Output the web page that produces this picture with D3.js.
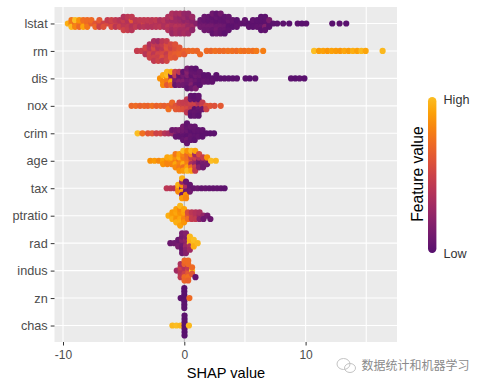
<!DOCTYPE html>
<html><head><meta charset="utf-8">
<script src="https://cdn.jsdelivr.net/npm/d3@7"></script>
<style>html,body{margin:0;padding:0;background:#fff;overflow:hidden}svg{display:block}</style>
</head><body><div id="chart"></div>
<script>
const features = ["lstat","rm","dis","nox","crim","age","tax","ptratio","rad","indus","zn","chas"];
const xTicks = [-10,0,10];
const xMinor = [-5,5,15];
const legendLabels = ["High","Low"];

// each point: [SHAP value, normalised feature value]
const lstat = [[-9.6,.95],[-9.3,.8],[-9.3,.98],[-9.3,.75],[-9,.72],[-9,1],[-9,.8],[-8.66,.75],[-8.66,.7],[-8.66,.85],[-8.33,.8],[-8.33,.72],[-8.33,.92],[-8,.7],[-8,.75],[-8,.7],[-7.66,.65],[-7.66,.7],[-7.33,.6],[-7.33,.68],[-7,.55],[-7,.62],[-7,.5],[-6.66,.5],[-6.66,.58],[-6.33,.55],[-6.33,.45],[-6,.45],[-6,.55],[-6,.5],[-5.66,.5],[-5.66,.44],[-5.66,.42],[-5.33,.44],[-5.33,.5],[-5.33,.4],[-5,.4],[-5,.46],[-5,.42],[-5,.38],[-5,.5],[-4.66,.4],[-4.66,.44],[-4.66,.38],[-4.66,.46],[-4.66,.42],[-4.33,.42],[-4.33,.62],[-4.33,.38],[-4.33,.44],[-4.33,.4],[-4,.4],[-4,.44],[-4,.42],[-3.66,.42],[-3.66,.44],[-3.66,.38],[-3.33,.5],[-3.33,.4],[-3.33,.44],[-3,.4],[-3,.44],[-3,.38],[-2.66,.44],[-2.66,.38],[-2.66,.42],[-2.33,.38],[-2.33,.44],[-2.33,.4],[-2,.38],[-2,.42],[-2,.36],[-1.66,.36],[-1.66,.4],[-1.66,.36],[-1.33,.36],[-1.33,.42],[-1.33,.32],[-1.33,.38],[-1.33,.36],[-1,.38],[-1,.3],[-1,.36],[-1,.4],[-1,.32],[-1,.36],[-1,.28],[-.66,.34],[-.66,.4],[-.66,.3],[-.66,.36],[-.66,.28],[-.66,.34],[-.66,.32],[-.33,.34],[-.33,.28],[-.33,.38],[-.33,.26],[-.33,.32],[-.33,.34],[-.33,.3],[0,.3],[0,.36],[0,.24],[0,.32],[0,.28],[0,.34],[0,.26],[.33,.32],[.33,.26],[.33,.28],[.33,.22],[.33,.34],[.33,.24],[.33,.3],[.66,.26],[.66,.3],[.66,.22],[.66,.24],[.66,.28],[1,.2],
[1.33,.1],[1.33,.12],[1.33,.08],[1.66,.1],[1.66,.06],[1.66,.12],[1.66,.08],[1.66,.1],[2,.08],[2,.12],[2,.05],[2,.1],[2,.07],[2.33,.1],[2.33,.06],[2.33,.12],[2.33,.04],[2.33,.08],[2.33,.1],[2.33,.05],[2.66,.06],[2.66,.1],[2.66,.04],[2.66,.12],[2.66,.07],[2.66,.09],[2.66,.05],[3,.08],[3,.05],[3,.1],[3,.04],[3,.07],[3,.11],[3,.06],[3.33,.06],[3.33,.09],[3.33,.04],[3.33,.07],[3.33,.05],[3.33,.03],[3.66,.05],[3.66,.08],[3.66,.03],[3.66,.06],[3.66,.04],[4,.05],[4,.03],[4,.06],[4.33,.04],[4.33,.02],[4.33,.05],[4.66,.04],[5,.03],[5,.05],[5.33,.02],[5.33,.04],[5.66,.03],[5.66,.04],[5.66,.03],[6,.02],[6,.04],[6,.03],[6.33,.03],[6.33,.02],[6.33,.05],[6.33,.02],[6.33,.03],[6.66,.02],[6.66,.18],[6.66,.03],[6.66,.04],[6.66,.02],[7,.03],[7,.14],[7,.02],[7.33,.02],[7.66,.02],[8.15,.02],[8.65,.01],[9.35,.02],[9.7,.01],[10.05,.02],[12.2,.01],[12.8,.02],[13.35,.01]];

const rm = [[-3.9,.46],[-3.55,.48],[-3.2,.46],[-3.2,.52],[-3.2,.4],[-2.85,.46],[-2.85,.52],[-2.85,.4],[-2.85,.5],[-2.85,.36],[-2.5,.48],[-2.5,.54],[-2.5,.42],[-2.5,.46],[-2.5,.5],[-2.5,.34],[-2.5,.44],[-2.15,.46],[-2.15,.52],[-2.15,.38],[-2.15,.48],[-2.15,.42],[-2.15,.5],[-2.15,.3],[-1.8,.5],[-1.8,.42],[-1.8,.54],[-1.8,.46],[-1.8,.58],[-1.8,.42],[-1.8,.44],[-1.45,.54],[-1.45,.46],[-1.45,.58],[-1.45,.5],[-1.45,.56],[-1.45,.52],[-1.45,.46],[-1.1,.56],[-1.1,.5],[-1.1,.6],[-1.1,.54],[-1.1,.62],[-.75,.6],[-.75,.64],[-.75,.56],[-.75,.6],[-.75,.58],[-.4,.64],[-.4,.6],[-.4,.66],[0,.66],[0,.62],[.35,.68],[.7,.7],[1.05,.68],[1.3,.7],[1.85,.7],[2.2,.68],[2.55,.72],[2.9,.7],[3.25,.7],[3.6,.72],[3.95,.72],[4.3,.7],[4.65,.74],[4.95,.72],[5.3,.74],[5.65,.72],[5.95,.76],[6.5,.78],
[10.7,1],[11.1,.88],[11.45,.9],[11.8,.86],[12.15,.9],[12.5,.88],[12.85,.86],[13.2,.92],[13.55,.88],[13.9,.95],[14.25,.9],[14.6,.98],[14.95,.92],[16.35,.98]];

const dis = [[-2,.85],[-1.75,.8],[-1.75,.95],[-1.75,.82],[-1.42,.85],[-1.42,1],[-1.42,.75],[-1.42,.98],[-1.42,.62],[-1.08,.5],[-1.08,.92],[-1.08,.1],[-1.08,.7],[-1.08,.95],[-.75,.2],[-.75,.45],[-.75,.14],[-.75,.5],[-.75,.06],[-.42,.1],[-.42,.2],[-.42,.06],[-.42,.12],[-.42,.42],[-.09,.08],[-.09,.12],[-.09,.18],[-.09,.05],[-.09,.1],[.25,.06],[.25,.1],[.25,.16],[.25,.08],[.25,.2],[.25,.05],[.25,.12],[.6,.08],[.6,.04],[.6,.12],[.6,.07],[.6,.18],[.6,.05],[.6,.09],[.94,.05],[.94,.08],[.94,.1],[.94,.04],[.94,.06],[.94,.16],[.94,.03],[1.28,.05],[1.28,.08],[1.28,.04],[1.28,.07],[1.28,.03],[1.62,.04],[1.62,.06],[1.62,.03],[1.96,.04],[1.96,.03],[1.96,.05],[2.3,.03],[2.3,.04],[2.64,.03],[2.64,.02],[2.98,.03],[3.32,.02],[3.66,.03],[4,.02],[4.34,.02],[5.05,.02],[5.4,.01],[5.85,.02],[8.8,.02],[9.15,.01],[9.5,.02],[9.9,.01]];

const nox = [[-4.35,.68],[-4,.7],[-3.65,.66],[-3.3,.68],[-3,.66],[-2.65,.72],[-2.3,.66],[-1.95,.68],[-1.65,.65],[-1.3,.66],[-1.3,.72],[-1,.62],[-1,.68],[-.7,.58],[-.7,.62],[-.4,.56],[-.4,.5],[-.4,.6],[-.1,.5],[-.1,.56],[-.1,.46],[.22,.5],[.22,.46],[.22,.54],[.22,.44],[.22,.42],[.54,.48],[.54,.44],[.54,.5],[.54,.05],[.54,.08],[.54,.03],[.54,.04],[.86,.46],[.86,.5],[.86,.03],[.86,.04],[.86,.06],[.86,.03],[.86,.05],[1.18,.44],[1.18,.08],[1.18,.36],[1.18,.05],[1.18,.04],[1.18,.03],[1.18,.05],[1.5,.52],[1.5,.46],[1.5,.08],[1.82,.58],[1.82,.5],[2.15,.6],[2.5,.58],[3,.62]];

const crim = [[-3.85,1],[-3.45,.72],[-3,.6],[-2.65,.62],[-2.3,.5],[-1.95,.52],[-1.6,.4],[-1.3,.35],[-1,.28],[-1,.1],[-.7,.2],[-.7,.06],[-.7,.12],[-.4,.08],[-.4,.14],[-.4,.05],[-.1,.08],[-.1,.04],[-.1,.1],[-.1,.06],[-.1,.12],[.22,.05],[.22,.08],[.22,.03],[.22,.06],[.22,.1],[.22,.04],[.22,.07],[.54,.04],[.54,.06],[.54,.03],[.54,.05],[.54,.07],[.86,.03],[.86,.05],[.86,.04],[.86,.06],[.86,.02],[1.18,.03],[1.18,.05],[1.18,.04],[1.5,.03],[1.5,.04],[1.5,.02],[1.82,.03],[2.14,.02],[2.45,.03]];

const age = [[-2.8,.85],[-2.45,.88],[-2.1,.82],[-1.75,.9],[-1.75,.85],[-1.4,.82],[-1.4,.92],[-1.4,.8],[-1.05,.88],[-1.05,.8],[-1.05,.94],[-.72,.78],[-.72,.85],[-.72,.92],[-.72,.75],[-.72,.82],[-.4,.72],[-.4,.8],[-.4,.95],[-.4,.76],[-.4,.9],[-.4,.84],[-.08,.85],[-.08,.76],[-.08,.95],[-.08,.8],[-.08,.72],[-.08,1],[-.08,.88],[.25,.75],[.25,.78],[.25,.72],[.25,.9],[.25,.7],[.25,.98],[.25,.85],[.58,.62],[.58,.5],[.58,.35],[.58,.82],[.58,.7],[.58,.98],[.58,.9],[.9,.35],[.9,.25],[.9,.5],[.9,.5],[.9,.3],[.9,.45],[.9,.92],[1.22,.15],[1.22,.4],[1.22,.1],[1.22,.55],[1.22,.2],[1.55,.2],[1.55,.12],[1.55,.45],[1.55,.1],[1.88,.25],[1.88,.85],[1.88,.12],[2.2,1],[2.6,.98]];

const tax = [[-1.45,.42],[-1.12,.4],[-.8,.38],[-.5,.85],[-.5,.82],[-.5,.95],[-.18,.12],[-.18,.85],[-.18,.9],[-.18,.25],[-.18,.12],[-.18,.95],[-.18,.88],[.14,.3],[.14,.1],[.14,.35],[.14,.85],[.14,.08],[.14,.8],[.46,.08],[.46,.06],[.46,.1],[.78,.06],[1.1,.08],[1.42,.05],[1.74,.06],[2.06,.05],[2.38,.04],[2.7,.05],[3.02,.04],[3.32,.03]];

const ptratio = [[-1.3,.95],[-.98,.9],[-.98,.95],[-.98,.88],[-.66,.88],[-.66,.92],[-.66,.85],[-.66,.9],[-.66,.95],[-.34,.88],[-.34,.92],[-.34,.85],[-.34,.95],[-.34,.82],[-.34,.9],[-.34,.98],[-.02,.85],[-.02,.9],[-.02,.8],[-.02,.92],[-.02,.86],[.3,.62],[.3,.72],[.3,.55],[.62,.5],[.62,.42],[.62,.46],[.94,.4],[.94,.44],[.94,.38],[1.26,.3],[1.26,.35],[1.26,.22],[1.58,.25],[1.58,.1],[1.9,.12],[2.15,.08]];

const rad = [[-1.15,.08],[-.82,.1],[-.5,.12],[-.5,.08],[-.5,.14],[-.18,.14],[-.18,.1],[-.18,.2],[-.18,.08],[-.18,.12],[-.18,.1],[-.18,.14],[.14,.2],[.14,.25],[.14,.28],[.14,.15],[.14,.22],[.14,.18],[.14,.2],[.46,1],[.46,.35],[.46,.95],[.46,.3],[.46,.98],[.78,.98],[.78,1],[.78,.95],[1.1,.98]];

const indus = [[-.62,.3],[-.3,.42],[-.3,.4],[-.3,.48],[-.3,.44],[-.3,.36],[.02,.42],[.02,.38],[.02,.5],[.02,.66],[.02,.7],[.02,.7],[.02,.68],[.32,.55],[.32,.62],[.32,.45],[.32,.72],[.32,.7],[.32,.66],[.32,.7],[.64,1],[.64,.7],[.64,.6],[.92,.05]];

const zn = [[-.3,.02],[0,.01],[0,.02],[0,.01],[0,.02],[0,.01],[0,.02],[0,.01],[.42,.7]];

const chas = [[-.98,.98],[-.65,1],[-.32,.98],[.02,.02],[.02,.01],[.02,.02],[.02,.01],[.02,.02],[.02,.01],[.02,.02],[.38,.98]];

const rows = {lstat,rm,dis,nox,crim,age,tax,ptratio,rad,indus,zn,chas};

const W=485,H=388, L=54.5,R=397,T=7,B=342;
const svg=d3.select("#chart").append("svg").attr("width",W).attr("height",H);
const x=d3.scaleLinear().domain([-10,10]).range([63,305.6]);
const y=d3.scalePoint().domain(features).range([T,B]).padding(.6);
const color=d3.scaleLinear().domain([0,1]).range([.25,.85]);
const fill=v=>d3.interpolateInferno(color(v));
const font="'Liberation Sans',Arial,sans-serif";

svg.append("rect").attr("x",L).attr("y",T).attr("width",R-L).attr("height",B-T).attr("fill","#ebebeb");
const grid=svg.append("g").attr("stroke","#fff");
grid.selectAll("line.v").data(xTicks.concat(xMinor)).join("line").attr("class","v")
  .attr("x1",d=>x(d)).attr("x2",d=>x(d)).attr("y1",T).attr("y2",B).attr("stroke-width",1.1);
grid.selectAll("line.h").data(features).join("line").attr("class","h")
  .attr("y1",d=>y(d)).attr("y2",d=>y(d)).attr("x1",L).attr("x2",R).attr("stroke-width",1.1);
svg.append("line").attr("x1",x(0)).attr("x2",x(0)).attr("y1",T).attr("y2",B).attr("stroke","#b3b3b3").attr("stroke-width",1.1);

// beeswarm: each point goes into the nearest free row around its category line
const step=3.3, minDx=3.4;
function swarm(list){
  const order=list.map((d,i)=>i).sort((a,b)=>list[a][0]-list[b][0]||a-b);
  const occupied=new Map(), out=[];
  let flip=1, prev=null;
  order.forEach(i=>{
    const px=x(list[i][0]);
    if(prev!==px){flip=-flip;prev=px;}
    let k=0;
    for(let n=0;;n++){
      k=n===0?0:(n%2?1:-1)*flip*Math.ceil(n/2);
      const last=occupied.get(k);
      if(last===undefined||px-last>=minDx-1e-6) break;
    }
    occupied.set(k,px);
    out[i]={px,off:k*step,v:list[i][1]};
  });
  return out;
}
const marks=svg.append("g");
features.forEach(f=>{
  marks.append("g").selectAll("circle").data(swarm(rows[f])).join("circle")
    .attr("cx",d=>d.px).attr("cy",d=>y(f)+d.off).attr("r",3.1).attr("fill",d=>fill(d.v));
});

const ax=svg.append("g").attr("transform",`translate(0,${B})`)
  .call(d3.axisBottom(x).tickValues(xTicks).tickSize(3.5).tickPadding(5).tickFormat(d=>d));
const ay=svg.append("g").attr("transform",`translate(${L},0)`)
  .call(d3.axisLeft(y).tickSize(3.8).tickPadding(3));
[ax,ay].forEach(a=>{
  a.select(".domain").remove();
  a.selectAll("line").attr("stroke","#333").attr("stroke-width",1);
  a.selectAll("text").attr("fill","#4d4d4d").style("font-family",font);
});
ax.selectAll("text").style("font-size","12px");
ay.selectAll("text").style("font-size","12.7px");
svg.append("text").attr("x",226).attr("y",378).attr("text-anchor","middle")
  .style("font-family",font).style("font-size","14.6px").attr("fill","#000").text("SHAP value");
svg.append("text").attr("transform","translate(423,174) rotate(-90)").attr("text-anchor","middle")
  .style("font-family",font).style("font-size","15.6px").attr("fill","#000").text("Feature value");

// colour bar
const defs=svg.append("defs");
const grad=defs.append("linearGradient").attr("id","cb").attr("x1",0).attr("x2",0).attr("y1",1).attr("y2",0);
d3.range(0,1.01,.1).forEach(t=>grad.append("stop").attr("offset",t).attr("stop-color",fill(t)));
svg.append("rect").attr("x",428).attr("y",97).attr("width",8.4).attr("height",156).attr("rx",4.2).attr("fill","url(#cb)");
svg.selectAll("text.leg").data(legendLabels).join("text").attr("class","leg")
  .attr("x",443.5).attr("y",(d,i)=>i?258:103.5).attr("fill","#333")
  .style("font-family",font).style("font-size","12.6px").text(d=>d);

// watermark
const wm=svg.append("g").attr("fill","none").attr("stroke","#c4c4c4").attr("stroke-width",1);
wm.append("ellipse").attr("cx",343.5).attr("cy",364).attr("rx",6.5).attr("ry",5.5);
wm.append("ellipse").attr("cx",350).attr("cy",368).attr("rx",5.5).attr("ry",4.5);
svg.append("text").attr("x",361.5).attr("y",370).attr("fill","#8a8a8a")
  .style("font-family","'Noto Sans CJK SC',sans-serif").style("font-size","12px").text("数据统计和机器学习");
</script></body></html>
